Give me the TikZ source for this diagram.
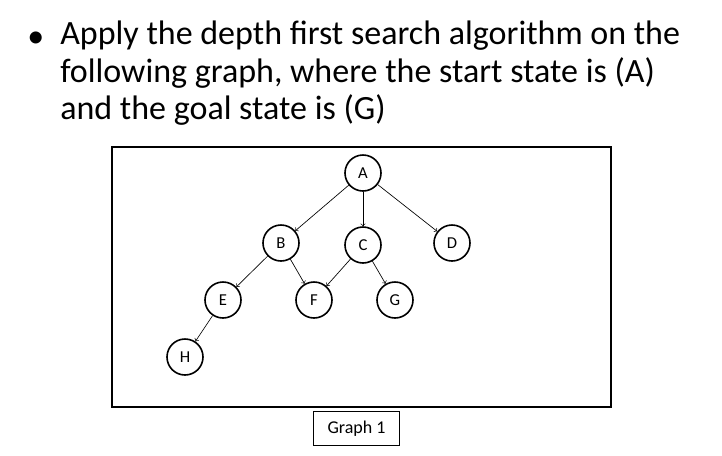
\documentclass[tikz,border=0pt]{standalone}
\usepackage{fontspec}
\setmainfont{Carlito}
\begin{document}
\begin{tikzpicture}[x=0.75pt,y=-0.75pt,
  st/.style={circle,draw,line width=1.2pt,minimum size=27pt,inner sep=0pt,font=\fontsize{12.5}{14}\selectfont},
  ed/.style={->,>=to,line width=0.5pt}]
\useasboundingbox (0,0) rectangle (722,455);
\node[anchor=west,font=\fontsize{25.5}{28}\selectfont,inner sep=0] (b) at (27,40) {•};
\node[anchor=north west,align=left,font=\fontsize{25.5}{28}\selectfont,inner sep=0] (t) at (60,21)
 {Apply the depth first search algorithm on the\\following graph, where the start state is (A)\\and the goal state is (G)};
\draw[line width=1.2pt] (112,147) rectangle (611,407);
\node[st] (A) at (363,173) {A};
\node[st] (B) at (281,243) {B};
\node[st] (C) at (363,245) {C};
\node[st] (D) at (452,243) {D};
\node[st] (E) at (223,300) {E};
\node[st] (F) at (314,300) {F};
\node[st] (G) at (395,300) {G};
\node[st] (H) at (185,357) {H};
\draw[ed] (A)--(B); \draw[ed] (A)--(C); \draw[ed] (A)--(D);
\draw[ed] (B)--(E); \draw[ed] (B)--(F); \draw[ed] (C)--(F); \draw[ed] (C)--(G);
\draw[ed] (E)--(H);
\node[draw,line width=0.6pt,minimum width=65pt,minimum height=26pt,font=\fontsize{13.5}{15}\selectfont] (g1) at (356.5,428.5) {Graph 1};
\end{tikzpicture}
\end{document}
